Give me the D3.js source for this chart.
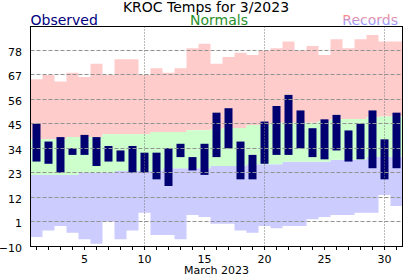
<!DOCTYPE html>
<html>
<head>
<meta charset="utf-8">
<script src="https://cdn.jsdelivr.net/npm/d3@7"></script>
<style>
  body { margin: 0; background: #fff; }
  svg { display: block; font-family: "DejaVu Sans", sans-serif; }
</style>
</head>
<body>
<div id="chart"></div>
<script>
// KROC daily temps for March 2023
const days = [1, 2, 3, 4, 5, 6, 7, 8, 9, 10, 11, 12, 13, 14, 15, 16,
    17, 18, 19, 20, 21, 22, 23, 24, 25, 26, 27, 28, 29, 30, 31]
const obsHigh = [45, 37, 39, 34, 40, 39, 35, 33, 35, 32, 32, 34, 36, 30, 36, 50,
    52, 37, 31, 46, 53, 58, 51, 43, 47, 49, 42, 45, 51, 38, 50]
const obsLow = [28, 27, 23, 31, 31, 26, 28, 28, 23, 23, 20, 17, 30, 24, 22, 30,
    34, 20, 20, 27, 31, 31, 34, 30, 29, 33, 28, 29, 25, 20, 25]
const normHigh = [38.0, 38.0, 38.0, 39.1, 39.1, 39.1, 40.3, 40.3, 40.3, 40.3, 41.3, 41.3, 41.3, 42.1, 42.1, 42.6,
    43.1, 43.1, 44.5, 44.5, 45.5, 45.5, 45.5, 45.5, 46.3, 46.9, 47.2, 47.2, 47.8, 48.3, 48.3]
const normLow = [22.0, 22.0, 22.0, 22.0, 22.8, 22.8, 22.8, 23.8, 23.8, 23.8, 23.8, 25.0, 25.0, 25.0, 25.0, 26.0,
    26.0, 26.0, 26.8, 26.8, 26.8, 27.9, 27.9, 27.9, 27.9, 28.8, 28.8, 28.8, 30.2, 30.2, 30.2]
const recHigh = [65, 67, 64, 68, 66, 72, 67, 74, 74, 67, 70, 68, 70, 79, 81, 72,
    75, 77, 76, 78, 79, 82, 78, 80, 76, 83, 79, 83, 85, 82, 82]
const recLow = [-6, -3, -1, -4, -7, -9, 1, -7, -3, 5, -5, -5, -7, 4, 3, 0,
    0, -3, -4, -1, -2, -1, -1, 2, 3, 4, 4, 5, 5, 13, 8]
const yTicks = [-10, 1, 12, 23, 34, 45, 56, 67, 78]
const xTickLabels = [5, 10, 15, 20, 25, 30]
const gridDays = [10, 20, 30]

const width = 412, height = 276
const plot = {left: 30.5, right: 402.5, top: 26.5, bottom: 246.5}

const svg = d3.select("#chart")
    .append("svg")
    .attr("width", width)
    .attr("height", height)

const x = d3.scaleLinear().domain([0.5, 31.5]).range([plot.left, plot.right])
const y = d3.scaleLinear().domain([-10, 89]).range([246, 26])

// step data: one point on the left edge of every day, plus the closing edge
const steps = days.map((d, i) => ({x: d - 0.5, i: i}))
steps.push({x: days[days.length - 1] + 0.5, i: days.length - 1})

const band = (lo, hi) => d3.area()
    .curve(d3.curveStepAfter)
    .x(p => x(p.x))
    .y0(p => y(lo[p.i]))
    .y1(p => y(hi[p.i]))

svg.append("path").datum(steps).attr("fill", "#ffcccc").attr("d", band(normHigh, recHigh))
svg.append("path").datum(steps).attr("fill", "#ccccff").attr("d", band(recLow, normLow))
svg.append("path").datum(steps).attr("fill", "#ccffcc").attr("d", band(normLow, normHigh))

// observed bars
svg.append("g")
    .selectAll("rect")
    .data(days)
    .enter()
    .append("rect")
    .attr("x", d => x(d) - 4)
    .attr("width", 8)
    .attr("y", (d, i) => y(obsHigh[i]))
    .attr("height", (d, i) => y(obsLow[i]) - y(obsHigh[i]))
    .attr("fill", "#000070")

// grid
svg.append("g")
    .selectAll("line")
    .data(yTicks.slice(1))
    .enter()
    .append("line")
    .attr("x1", plot.left).attr("x2", plot.right)
    .attr("y1", d => Math.floor(y(d)) + 0.5)
    .attr("y2", d => Math.floor(y(d)) + 0.5)
    .attr("stroke", "#929292")
    .attr("stroke-dasharray", "4,2")

svg.append("g")
    .selectAll("line")
    .data(gridDays)
    .enter()
    .append("line")
    .attr("x1", d => x(d)).attr("x2", d => x(d))
    .attr("y1", plot.top).attr("y2", plot.bottom)
    .attr("stroke", "#777")
    .attr("stroke-dasharray", "1,2")

// frame
svg.append("rect")
    .attr("x", plot.left).attr("y", plot.top)
    .attr("width", plot.right - plot.left).attr("height", plot.bottom - plot.top)
    .attr("fill", "none")
    .attr("stroke", "#000")

// axes
const yAxis = svg.append("g")
    .attr("transform", `translate(${plot.left},0)`)
    .call(d3.axisLeft(y).tickValues(yTicks).tickSize(0).tickPadding(8.5).offset(0))
yAxis.select(".domain").remove()
yAxis.selectAll("text")
    .attr("dy", "0.5em")
    .style("font-family", "DejaVu Sans")
    .style("font-size", "11px")
    .attr("fill", "#000")

const xAxis = svg.append("g")
    .attr("transform", `translate(0,${plot.bottom})`)
    .call(d3.axisBottom(x)
        .tickValues(days)
        .tickSize(3.5)
        .tickPadding(5)
        .offset(0)
        .tickFormat(d => xTickLabels.includes(d) ? d : ""))
xAxis.select(".domain").remove()
xAxis.selectAll("line").attr("stroke", "#000")
xAxis.selectAll("text")
    .style("font-family", "DejaVu Sans")
    .style("font-size", "11px")
    .attr("fill", "#000")

svg.append("text")
    .attr("x", (plot.left + plot.right) / 2)
    .attr("y", 273.5)
    .attr("text-anchor", "middle")
    .style("font-size", "11px")
    .text("March 2023")

// titles and legend words
const grad = svg.append("defs").append("linearGradient")
    .attr("id", "recGrad")
    .attr("x1", 0).attr("y1", 0).attr("x2", 0).attr("y2", 1)
grad.append("stop").attr("offset", "25%").attr("stop-color", "#ff8c8c")
grad.append("stop").attr("offset", "75%").attr("stop-color", "#9a9aff")

svg.append("text")
    .attr("x", width / 2)
    .attr("y", 12)
    .attr("text-anchor", "middle")
    .style("font-size", "14px")
    .text("KROC Temps for 3/2023")

svg.append("text")
    .attr("x", plot.left)
    .attr("y", 24.5)
    .style("font-size", "14px")
    .attr("fill", "#000080")
    .text("Observed")

svg.append("text")
    .attr("x", 219)
    .attr("y", 24.5)
    .attr("text-anchor", "middle")
    .style("font-size", "14px")
    .attr("fill", "#2a8f2a")
    .text("Normals")

svg.append("text")
    .attr("x", 398)
    .attr("y", 24.5)
    .attr("text-anchor", "end")
    .style("font-size", "14px")
    .attr("fill", "url(#recGrad)")
    .text("Records")
</script>
</body>
</html>
